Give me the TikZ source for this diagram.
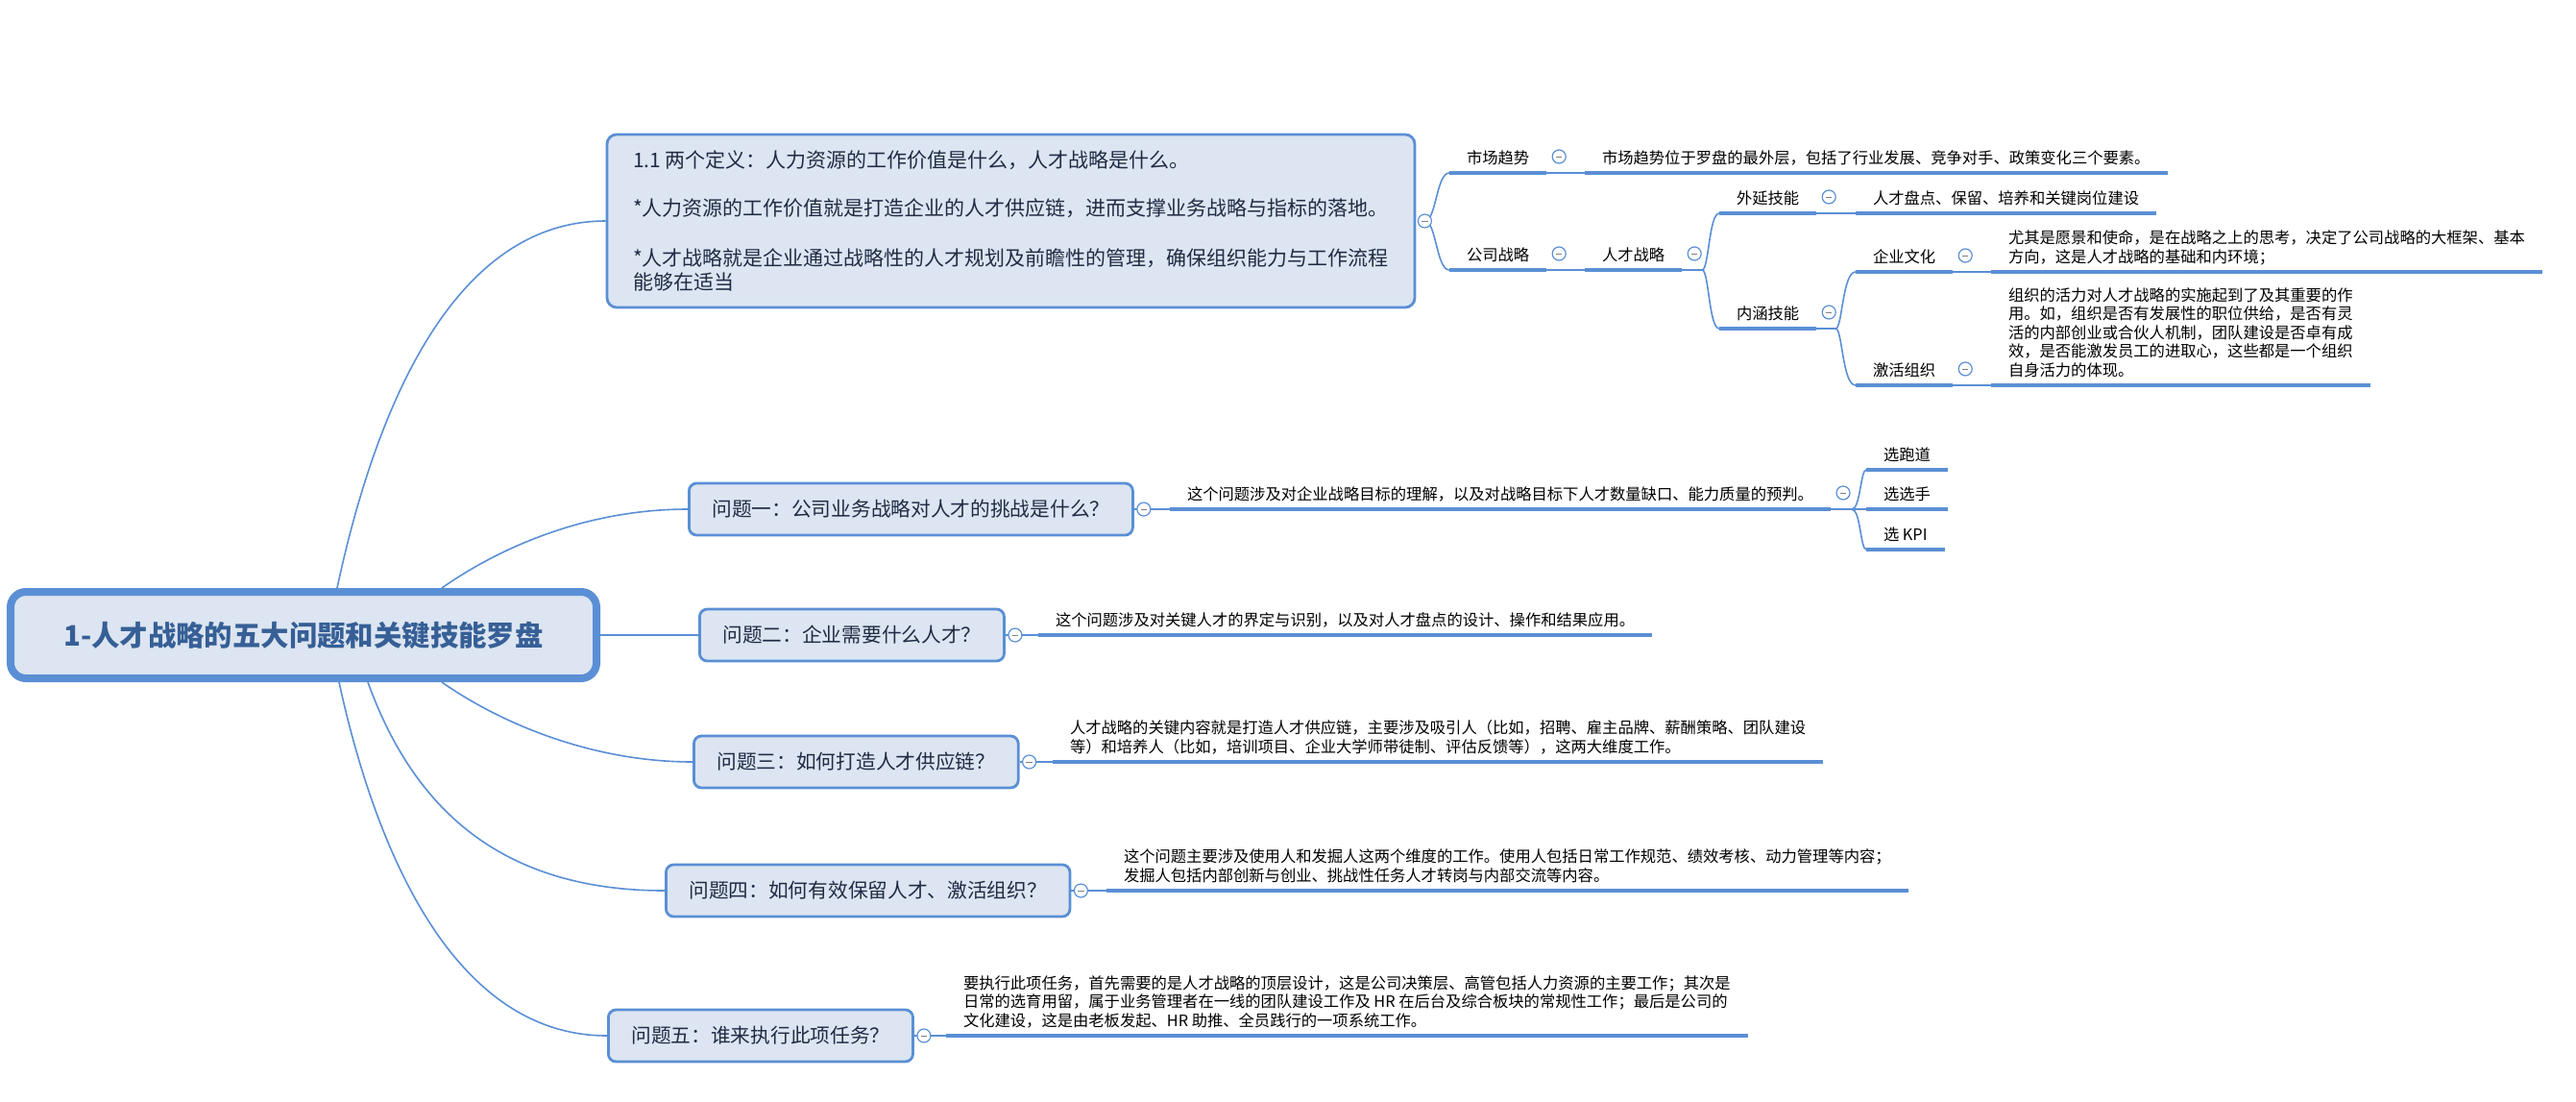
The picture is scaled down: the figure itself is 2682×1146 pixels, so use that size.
\documentclass[tikz,border=0pt]{standalone}
\usepackage{fontspec}
\setmainfont{Noto Sans CJK SC}
\usetikzlibrary{calc,backgrounds}
\definecolor{boxfill}{HTML}{DCE5F1}
\definecolor{edgeblue}{HTML}{5A8FD5}
\definecolor{titleblue}{HTML}{365F96}
\definecolor{navy}{HTML}{202B44}
\definecolor{ink}{HTML}{000000}
\newcommand\mylines[1]{\vbox{#1}}
\newcommand\myln[1]{\hbox{#1}}
\begin{document}
\begin{tikzpicture}[x=0.5pt,y=-0.5pt,
  rootbox/.style={draw=edgeblue, fill=boxfill, line width=4pt, rounded corners=8pt,
    minimum width=305pt, minimum height=45pt, inner sep=0pt,
    font=\fontsize{14.7}{17}\selectfont\bfseries, text=titleblue},
  qbox/.style={draw=edgeblue, fill=boxfill, line width=1.4pt, rounded corners=4pt,
    inner xsep=12pt, minimum height=27pt, anchor=west,
    font=\fontsize{10.35}{12.5}\selectfont, text=navy},
  utopic/.style={anchor=south west, inner xsep=9pt, inner ysep=4.8pt, outer sep=0pt,
    text depth=0pt, font=\fontsize{8.15}{9.75}\selectfont, text=ink},
  ulbar/.style={draw=edgeblue, line width=2pt},
  link/.style={draw=edgeblue, line width=0.8pt},
  fold/.style={circle, draw=edgeblue, line width=0.6pt, fill=white, minimum size=7pt,
    inner sep=0pt, path picture={\draw[gray, line width=0.5pt]
      ([xshift=-1.6pt]path picture bounding box.center) --
      ([xshift=1.6pt]path picture bounding box.center);}},
]
\useasboundingbox (0,0) rectangle (2682,1146);

% root
\node[rootbox] (root) at (316,661) {1-人才战略的五大问题和关键技能罗盘};

% 1.1 definitions box
\node[qbox, anchor=center, minimum width=420.5pt, minimum height=90pt, rounded corners=5pt,
  font=\fontsize{10.5}{12.5}\selectfont] (def) at (1052.5,230) {\mylines{%
  \myln{1.1 两个定义：人力资源的工作价值是什么，人才战略是什么。}\vskip12.5pt
  \myln{*人力资源的工作价值就是打造企业的人才供应链，进而支撑业务战略与指标的落地。}\vskip13.5pt
  \myln{*人才战略就是企业通过战略性的人才规划及前瞻性的管理，确保组织能力与工作流程}
  \myln{能够在适当}}};

% question boxes
\node[qbox] (q1) at (716,530) {问题一：公司业务战略对人才的挑战是什么？};
\node[qbox] (q2) at (727,661) {问题二：企业需要什么人才？};
\node[qbox] (q3) at (721,793) {问题三：如何打造人才供应链？};
\node[qbox] (q4) at (692,927) {问题四：如何有效保留人才、激活组织？};
\node[qbox] (q5) at (632,1078) {问题五：谁来执行此项任务？};

% underline topics of 1.1
\node[utopic] (mkt) at (1509,180) {市场趋势};
\node[utopic] (mktd) at (1650,180) {市场趋势位于罗盘的最外层，包括了行业发展、竞争对手、政策变化三个要素。};
\node[utopic] (corp) at (1509,281) {公司战略};
\node[utopic] (tal) at (1650,281) {人才战略};
\node[utopic] (ext) at (1790,222) {外延技能};
\node[utopic] (extd) at (1932,222) {人才盘点、保留、培养和关键岗位建设};
\node[utopic] (intn) at (1790,342) {内涵技能};
\node[utopic] (cul) at (1932,283) {企业文化};
\node[utopic] (culd) at (2073,283) {\mylines{%
  \myln{尤其是愿景和使命，是在战略之上的思考，决定了公司战略的大框架、基本}
  \myln{方向，这是人才战略的基础和内环境；}}};
\node[utopic] (act) at (1932,401) {激活组织};
\node[utopic] (actd) at (2073,401) {\mylines{%
  \myln{组织的活力对人才战略的实施起到了及其重要的作}
  \myln{用。如，组织是否有发展性的职位供给，是否有灵}
  \myln{活的内部创业或合伙人机制，团队建设是否卓有成}
  \myln{效，是否能激发员工的进取心，这些都是一个组织}
  \myln{自身活力的体现。}}};

% question descriptions
\node[utopic] (p1d) at (1218,530) {这个问题涉及对企业战略目标的理解，以及对战略目标下人才数量缺口、能力质量的预判。};
\node[utopic] (r1) at (1943,489) {选跑道};
\node[utopic] (r2) at (1943,530) {选选手};
\node[utopic] (r3) at (1943,572) {选 KPI};
\node[utopic] (p2d) at (1081,661) {这个问题涉及对关键人才的界定与识别，以及对人才盘点的设计、操作和结果应用。};
\node[utopic] (p3d) at (1096,793) {\mylines{%
  \myln{人才战略的关键内容就是打造人才供应链，主要涉及吸引人（比如，招聘、雇主品牌、薪酬策略、团队建设}
  \myln{等）和培养人（比如，培训项目、企业大学师带徒制、评估反馈等），这两大维度工作。}}};
\node[utopic] (p4d) at (1152,927) {\mylines{%
  \myln{这个问题主要涉及使用人和发掘人这两个维度的工作。使用人包括日常工作规范、绩效考核、动力管理等内容；}
  \myln{发掘人包括内部创新与创业、挑战性任务人才转岗与内部交流等内容。}}};
\node[utopic] (p5d) at (985,1078) {\mylines{%
  \myln{要执行此项任务，首先需要的是人才战略的顶层设计，这是公司决策层、高管包括人力资源的主要工作；其次是}
  \myln{日常的选育用留，属于业务管理者在一线的团队建设工作及 HR 在后台及综合板块的常规性工作；最后是公司的}
  \myln{文化建设，这是由老板发起、HR 助推、全员践行的一项系统工作。}}};

% underlines
\foreach \n in {mkt,mktd,corp,tal,ext,extd,intn,cul,culd,act,actd,p1d,r1,r2,r3,p2d,p3d,p4d,p5d}
  \draw[ulbar] (\n.south west) -- (\n.south east);

% fold buttons
\node[fold] (fdef) at ($(def.east)+(9,0)$) {};
\foreach \q in {q1,q2,q3,q4,q5}
  \node[fold] (f\q) at ($(\q.east)+(10,0)$) {};
\foreach \n in {mkt,corp,tal,ext,intn,cul,act,p1d}
  \node[fold] (f\n) at ($(\n.south east)+(13,-17)$) {};

% junctions
\coordinate (jt) at ($(tal.south east)+(21,0)$);
\coordinate (ji) at ($(intn.south east)+(20,0)$);
\coordinate (jp) at ($(p1d.south east)+(22,0)$);

\begin{scope}[on background layer]
  % root branches
  \draw[link] ($(root.north west)+(344,0)$) .. controls (390,430) and (470,230) .. (def.west);
  \draw[link] ($(root.north west)+(453,0)$) .. controls (520,570) and (610,530) .. (q1.west);
  \draw[link] (root.east) -- (q2.west);
  \draw[link] ($(root.south west)+(453,0)$) .. controls (520,752) and (615,793) .. (q3.west);
  \draw[link] ($(root.south west)+(376,0)$) .. controls (430,840) and (520,927) .. (q4.west);
  \draw[link] ($(root.south west)+(346,0)$) .. controls (390,880) and (470,1078) .. (q5.west);
  % question boxes to descriptions
  \foreach \q/\d in {q1/p1d,q2/p2d,q3/p3d,q4/p4d,q5/p5d}
    \draw[link] (\q.east) -- (f\q.center) -- (\d.south west);
  % 1.1 children
  \draw[link] (fdef.center) .. controls ($(fdef.center)+(12,0)$) and ($(fdef.center |- mkt.south west)+(12,0)$) .. (mkt.south west);
  \draw[link] (fdef.center) .. controls ($(fdef.center)+(12,0)$) and ($(fdef.center |- corp.south west)+(12,0)$) .. (corp.south west);
  \draw[link] (mkt.south east) -- (mktd.south west);
  \draw[link] (corp.south east) -- (tal.south west);
  \draw[link] (tal.south east) -- (jt);
  \draw[link] (jt) .. controls ($(jt)+(7,0)$) and ($(jt |- ext.south west)+(7,0)$) .. (ext.south west);
  \draw[link] (jt) .. controls ($(jt)+(7,0)$) and ($(jt |- intn.south west)+(7,0)$) .. (intn.south west);
  \draw[link] (ext.south east) -- (extd.south west);
  \draw[link] (intn.south east) -- (ji);
  \draw[link] (ji) .. controls ($(ji)+(7,0)$) and ($(ji |- cul.south west)+(7,0)$) .. (cul.south west);
  \draw[link] (ji) .. controls ($(ji)+(7,0)$) and ($(ji |- act.south west)+(7,0)$) .. (act.south west);
  \draw[link] (cul.south east) -- (culd.south west);
  \draw[link] (act.south east) -- (actd.south west);
  % question one children
  \draw[link] (p1d.south east) -- (jp);
  \draw[link] (jp) .. controls ($(jp)+(9,0)$) and ($(jp |- r1.south west)+(9,0)$) .. (r1.south west);
  \draw[link] (jp) -- (r2.south west);
  \draw[link] (jp) .. controls ($(jp)+(9,0)$) and ($(jp |- r3.south west)+(9,0)$) .. (r3.south west);
\end{scope}
\end{tikzpicture}
\end{document}
